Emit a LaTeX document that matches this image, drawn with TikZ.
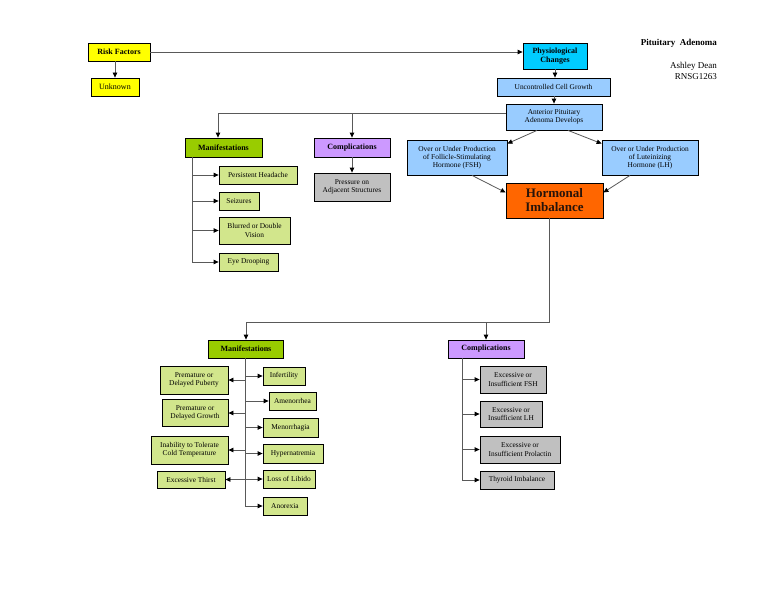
\documentclass[tikz,border=0pt]{standalone}
\usepackage{fontspec}
\setmainfont{Liberation Serif}
\usetikzlibrary{arrows.meta}
\definecolor{yellowbox}{RGB}{255,255,0}
\definecolor{cyanbox}{RGB}{0,204,255}
\definecolor{lblue}{RGB}{153,204,255}
\definecolor{orangebox}{RGB}{255,102,0}
\definecolor{greenhdr}{RGB}{153,204,0}
\definecolor{greenitem}{RGB}{210,230,140}
\definecolor{purplebox}{RGB}{204,153,255}
\definecolor{graybox}{RGB}{192,192,192}
\definecolor{hitext}{RGB}{40,20,10}
\begin{document}
\begin{tikzpicture}[x=1pt,y=-1pt,
  box/.style={draw=black, line width=0.8pt, inner sep=1pt, align=center, font=\fontsize{7.4}{8.2}\selectfont, text=black},
  hdr/.style={box, font=\fontsize{8}{9}\selectfont\bfseries},
  ln/.style={draw=gray!70!black, line width=0.8pt},
  arr/.style={ln, -{Triangle[length=5pt,width=4.5pt,color=black]}},
  bsz/.style 2 args={minimum width=#1pt, minimum height=#2pt},
  item/.style={box, fill=greenitem},
  cbox/.style={box, fill=graybox}
]
\fill[white] (0,0) rectangle (768,594);
\useasboundingbox (0,0) rectangle (768,594);

% title
\node[anchor=east, inner sep=0pt, font=\fontsize{9}{10}\selectfont\bfseries] (title) at (717,43) {Pituitary\ \ Adenoma};
\node[anchor=east, inner sep=0pt, font=\fontsize{9}{10}\selectfont] (auth) at (717,66) {Ashley Dean};
\node[anchor=east, inner sep=0pt, font=\fontsize{9}{10}\selectfont] (course) at (717,77) {RNSG1263};

% top chain
\node[hdr, fill=yellowbox, bsz={62}{18}] (rf) at (119,52) {Risk Factors};
\node[box, fill=yellowbox, bsz={48}{18}, font=\fontsize{8}{9}\selectfont] (unk) at (115,87) {Unknown};
\node[hdr, fill=cyanbox, bsz={64}{26}] (pc) at (555,56) {Physiological\\Changes};
\node[box, fill=lblue, bsz={113}{18}] (ucg) at (553.5,87) {Uncontrolled Cell Growth};
\node[box, fill=lblue, bsz={96}{26}] (apa) at (554,117) {Anterior Pituitary\\Adenoma Develops};
\node[box, fill=lblue, bsz={100}{35}] (fsh) at (457,157.5) {Over or Under Production\\of Follicle-Stimulating\\Hormone (FSH)};
\node[box, fill=lblue, bsz={96}{35}] (lh) at (650,157.5) {Over or Under Production\\of Luteinizing\\Hormone (LH)};
\node[box, fill=orangebox, bsz={97}{35}, text=hitext, font=\fontsize{13}{14}\selectfont\bfseries] (hi) at (554.5,200.5) {Hormonal\\Imbalance};

% upper manifestations / complications
\node[hdr, fill=greenhdr, bsz={77}{19}] (m1) at (223.5,147.5) {Manifestations};
\node[hdr, fill=purplebox, bsz={76}{19}] (c1) at (352,147.5) {Complications};
\node[item, bsz={78}{18}] (ph) at (258,175) {Persistent Headache};
\node[item, bsz={40}{18}] (seiz) at (239,201) {Seizures};
\node[item, bsz={71}{27}] (bv) at (254.5,230.5) {Blurred or Double\\Vision};
\node[item, bsz={59}{18}] (ed) at (248.5,262) {Eye Drooping};
\node[cbox, bsz={76}{28}] (pas) at (352,187) {Pressure on\\Adjacent Structures};

% lower manifestations / complications
\node[hdr, fill=greenhdr, bsz={75}{18}] (m2) at (246,349) {Manifestations};
\node[hdr, fill=purplebox, bsz={76}{18}] (c2) at (486,349) {Complications};
\node[item, bsz={42}{18}] (inf) at (284,376) {Infertility};
\node[item, bsz={47}{18}] (ame) at (292.5,401) {Amenorrhea};
\node[item, bsz={55}{19}] (men) at (290.5,427.5) {Menorrhagia};
\node[item, bsz={60}{19}] (hyp) at (293,453.5) {Hypernatremia};
\node[item, bsz={52}{18}] (lol) at (289,479) {Loss of Libido};
\node[item, bsz={44}{18}] (ano) at (285,506) {Anorexia};
\node[item, bsz={68}{28}] (pup) at (194,380) {Premature or\\Delayed Puberty};
\node[item, bsz={66}{27}] (pug) at (195,413) {Premature or\\Delayed Growth};
\node[item, bsz={77}{28}] (cold) at (189.5,450) {Inability to Tolerate\\Cold Temperature};
\node[item, bsz={68}{17}] (thi) at (191,479.5) {Excessive Thirst};
\node[cbox, bsz={66}{27}] (efsh) at (513,379.5) {Excessive or\\Insufficient FSH};
\node[cbox, bsz={62}{26}] (elh) at (511,414) {Excessive or\\Insufficient LH};
\node[cbox, bsz={80}{27}] (epr) at (520,449.5) {Excessive or\\Insufficient Prolactin};
\node[cbox, bsz={74}{18}] (thy) at (517,480) {Thyroid Imbalance};

% connectors top
\draw[arr] (rf.east) -- (rf.east -| pc.west);
\draw[arr] (rf.south -| unk.north) -- (unk.north);
\draw[arr] (pc.south) -- (pc.south |- ucg.north);
\draw[arr] (ucg.south -| apa.north) -- (apa.north);
\draw[arr] ([xshift=-17pt]apa.south) -- ([yshift=-4pt]fsh.north east);
\draw[arr] ([xshift=14pt]apa.south) -- ([yshift=-4pt]lh.north west);
\draw[arr] ([xshift=15pt]fsh.south) -- ([yshift=8pt]hi.west);
\draw[arr] ([xshift=-20pt]lh.south) -- ([yshift=8pt]hi.east);

\coordinate (aj) at (218,113);
\draw[arr] (apa.west |- aj) -- (aj) -- (aj |- m1.north);
\draw[arr] (c1.north |- aj) -- (c1.north);
\draw[arr] (c1.south) -- (pas.north);

\coordinate (ms) at (192,157);
\draw[ln] (ms) -- (ms |- ed.west);
\foreach \n in {ph,seiz,bv,ed} \draw[arr] (ms |- \n.west) -- (\n.west);

% connectors bottom
\coordinate (hj) at (549,322);
\draw[arr] (hj |- hi.south) -- (hj) -| (m2.north);
\draw[arr] (hj -| c2.north) -- (c2.north);

\coordinate (m2s) at (245,358);
\draw[ln] (m2s) -- (m2s |- ano.west);
\foreach \n in {inf,ame,men,hyp,lol,ano} \draw[arr] (m2s |- \n.west) -- (\n.west);
\foreach \n in {pup,pug,cold,thi} \draw[arr] (m2s |- \n.east) -- (\n.east);

\coordinate (c2s) at (462,358);
\draw[ln] (c2s) -- (c2s |- thy.west);
\foreach \n in {efsh,elh,epr,thy} \draw[arr] (c2s |- \n.west) -- (\n.west);
\end{tikzpicture}
\end{document}
